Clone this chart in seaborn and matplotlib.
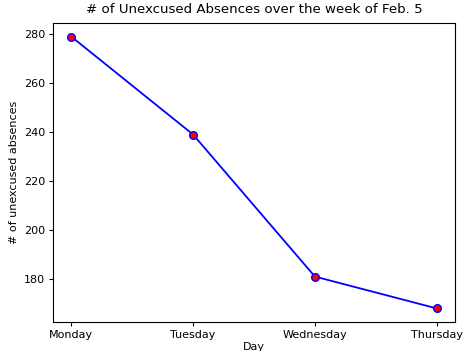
import numpy as np
import pandas as pd
import matplotlib
matplotlib.use("Agg")
import matplotlib.pyplot as plt
import seaborn as sns

days = ["Monday", "Tuesday", "Wednesday", "Thursday"]
absences = [279, 239, 181, 168]

df = pd.DataFrame({"Day": days, "Absences": absences})

fig = plt.figure(figsize=(4.74, 3.51), dpi=100)
ax = fig.add_axes([53 / 474, 1 - 322 / 351, (455 - 53) / 474, (322 - 23) / 351])

sns.lineplot(data=df, x="Day", y="Absences", ax=ax, color="blue", sort=False,
             marker="o", markerfacecolor="red", markeredgecolor="blue",
             markersize=5.5, markeredgewidth=1.0, linewidth=1.3)

ax.set_title("# of Unexcused Absences over the week of Feb. 5", fontsize=9.6, pad=7)
ax.set_xlabel("Day", fontsize=8, labelpad=2)
ax.set_ylabel("# of unexcused absences", fontsize=8)
ax.tick_params(labelsize=8, length=3, pad=2.5)

fig.savefig("out.png", dpi=100)
